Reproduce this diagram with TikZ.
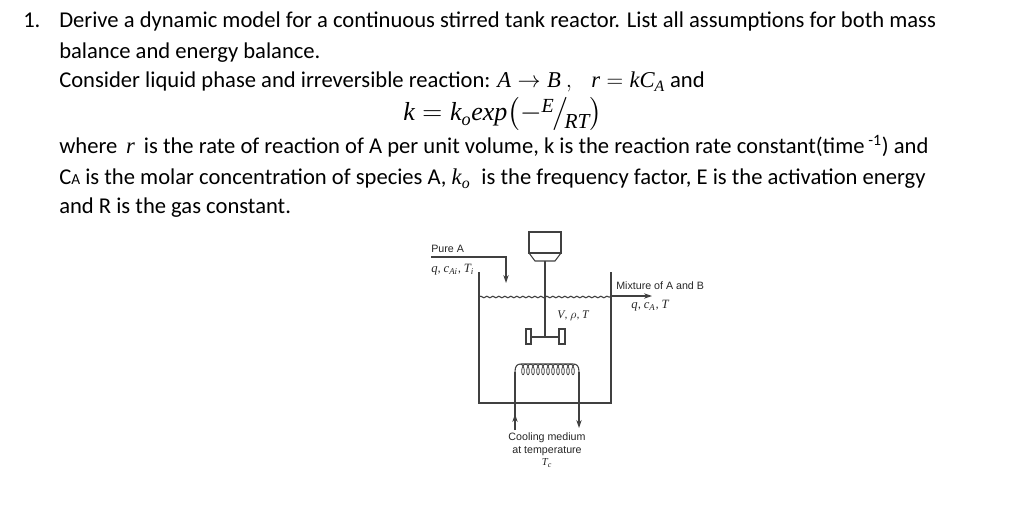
\documentclass[tikz,border=0pt]{standalone}
\usepackage{amsmath}
\usepackage{fontspec}
\setmainfont{Carlito}
\newfontfamily\labelfont{Liberation Sans}
\newfontfamily\mathvar{Liberation Serif}
\newcommand{\mv}[1]{\text{\mathvar\itshape #1}}
\usetikzlibrary{arrows.meta,decorations.pathmorphing}
\tikzset{
    bodyline/.style={anchor=base west, inner sep=0pt, font=\fontsize{16.95pt}{19pt}\selectfont},
    tanklabel/.style={inner sep=0pt, text=black!85, font=\fontsize{8pt}{9.4pt}\labelfont, align=center},
    mathlabel/.style={inner sep=0pt, text=black!85, font=\fontsize{9.5pt}{11pt}\selectfont},
    tankline/.style={draw=black!75, line width=0.8pt},
    pipeline/.style={tankline, -{Stealth[length=6pt,width=4pt]}}
}
\begin{document}
\begin{tikzpicture}[x=0.75pt,y=-0.75pt]
    \useasboundingbox (0,0) rectangle (1024,531);

    % question text
    \node[bodyline] (num) at (23,28) {1.};
    \node[bodyline] (line1) at (59,28) {Derive a dynamic model for a continuous stirred tank reactor. List all assumptions for both mass};
    \node[bodyline] (line2) at (59,59) {balance and energy balance.};
    \node[bodyline] (line3) at (59,88) {Consider liquid phase and irreversible reaction: $\mv{A} \rightarrow \mv{B}\ ,\ \ \ \mv{r} = \mv{k}\mv{C}_{\mv{A}}$ and};
    \node[bodyline, font=\fontsize{19.5pt}{21pt}\selectfont] (line4) at (403,121) {\smash{$\mv{k} = \mv{k}_{\mv{o}}\mv{exp}\bigl(-\raisebox{6pt}{\fontsize{15pt}{15pt}\mathvar\itshape E}\hspace{-1pt}\big/\hspace{-3pt}\raisebox{-6pt}{\fontsize{16pt}{16pt}\mathvar\itshape RT}\bigr)$}};
    \node[bodyline] (line5) at (59,154) {where $\mv{\,r\,}$ is the rate of reaction of A per unit volume, k is the reaction rate constant(time\hspace{-1pt} $^{\text{-1}}$) and};
    \node[bodyline] (line6) at (59,185) {C{\fontsize{11.5pt}{12pt}\selectfont A} is the molar concentration of species A, $\mv{k}_{\mv{o}}$\hspace{4.5pt} is the frequency factor, E is the activation energy};
    \node[bodyline] (line7) at (59,214) {and R is the gas constant.};

    % tank
    \draw[tankline] (479,272) -- (479,403) -- (611,403) -- (611,272);
    \draw[tankline, decorate, decoration={snake,amplitude=0.6pt,segment length=4.5pt}] (479,297) -- (611,297);

    % feed and outlet
    \draw[pipeline] (431,257) -- (506,257) -- (506,283);
    \draw[pipeline] (611,296) -- (652,296);

    % motor and stirrer
    \draw[tankline] (529,232) -- (529,253) -- (561,253) -- (561,232) -- cycle;
    \draw[tankline] (529,253) -- (535,261) -- (555,261) -- (561,253);
    \draw[tankline] (545,261) -- (545,337);
    \draw[tankline] (531,337) -- (559,337);
    \draw[tankline] (526,329) rectangle (531,344);
    \draw[tankline] (559,329) rectangle (565,344);

    % cooling coil
    \draw[tankline] (515,372) .. controls (515,366) and (517,364) .. (521,364) -- (573,364) .. controls (577,364) and (579,366) .. (579,372);
    \draw[draw=black!75, line width=0.6pt] plot[domain=0:3960,samples=320,smooth] ({520.5+\x/360*5+2.4*sin(\x)},{369.5-5.2*cos(\x)});
    \draw[tankline] (515,372) -- (515,430);
    \draw[pipeline] (515,430) -- (515,414);
    \draw[pipeline] (579,372) -- (579,428);

    % labels
    \node[tanklabel, anchor=west] (pure) at (431,249) {Pure A};
    \node[mathlabel, anchor=west] (feed) at (431,270) {$\mv{q}$, $\mv{c}_{\mv{Ai}}$, $\mv{T}_{\mv{i}}$};
    \node[tanklabel, anchor=west] (mix) at (616,286) {Mixture of A and B};
    \node[mathlabel] (out) at (650,306) {$\mv{q}$, $\mv{c}_{\mv{A}}$, $\mv{T}$};
    \node[mathlabel, font=\fontsize{8.8pt}{11pt}\selectfont] (vol) at (573,316) {$\mv{V}$, $\rho$, $\mv{T}$};
    \node[tanklabel] (cool) at (547,450) {Cooling medium\\at temperature\\$\mv{T}_{\mv{c}}$};
\end{tikzpicture}
\end{document}
